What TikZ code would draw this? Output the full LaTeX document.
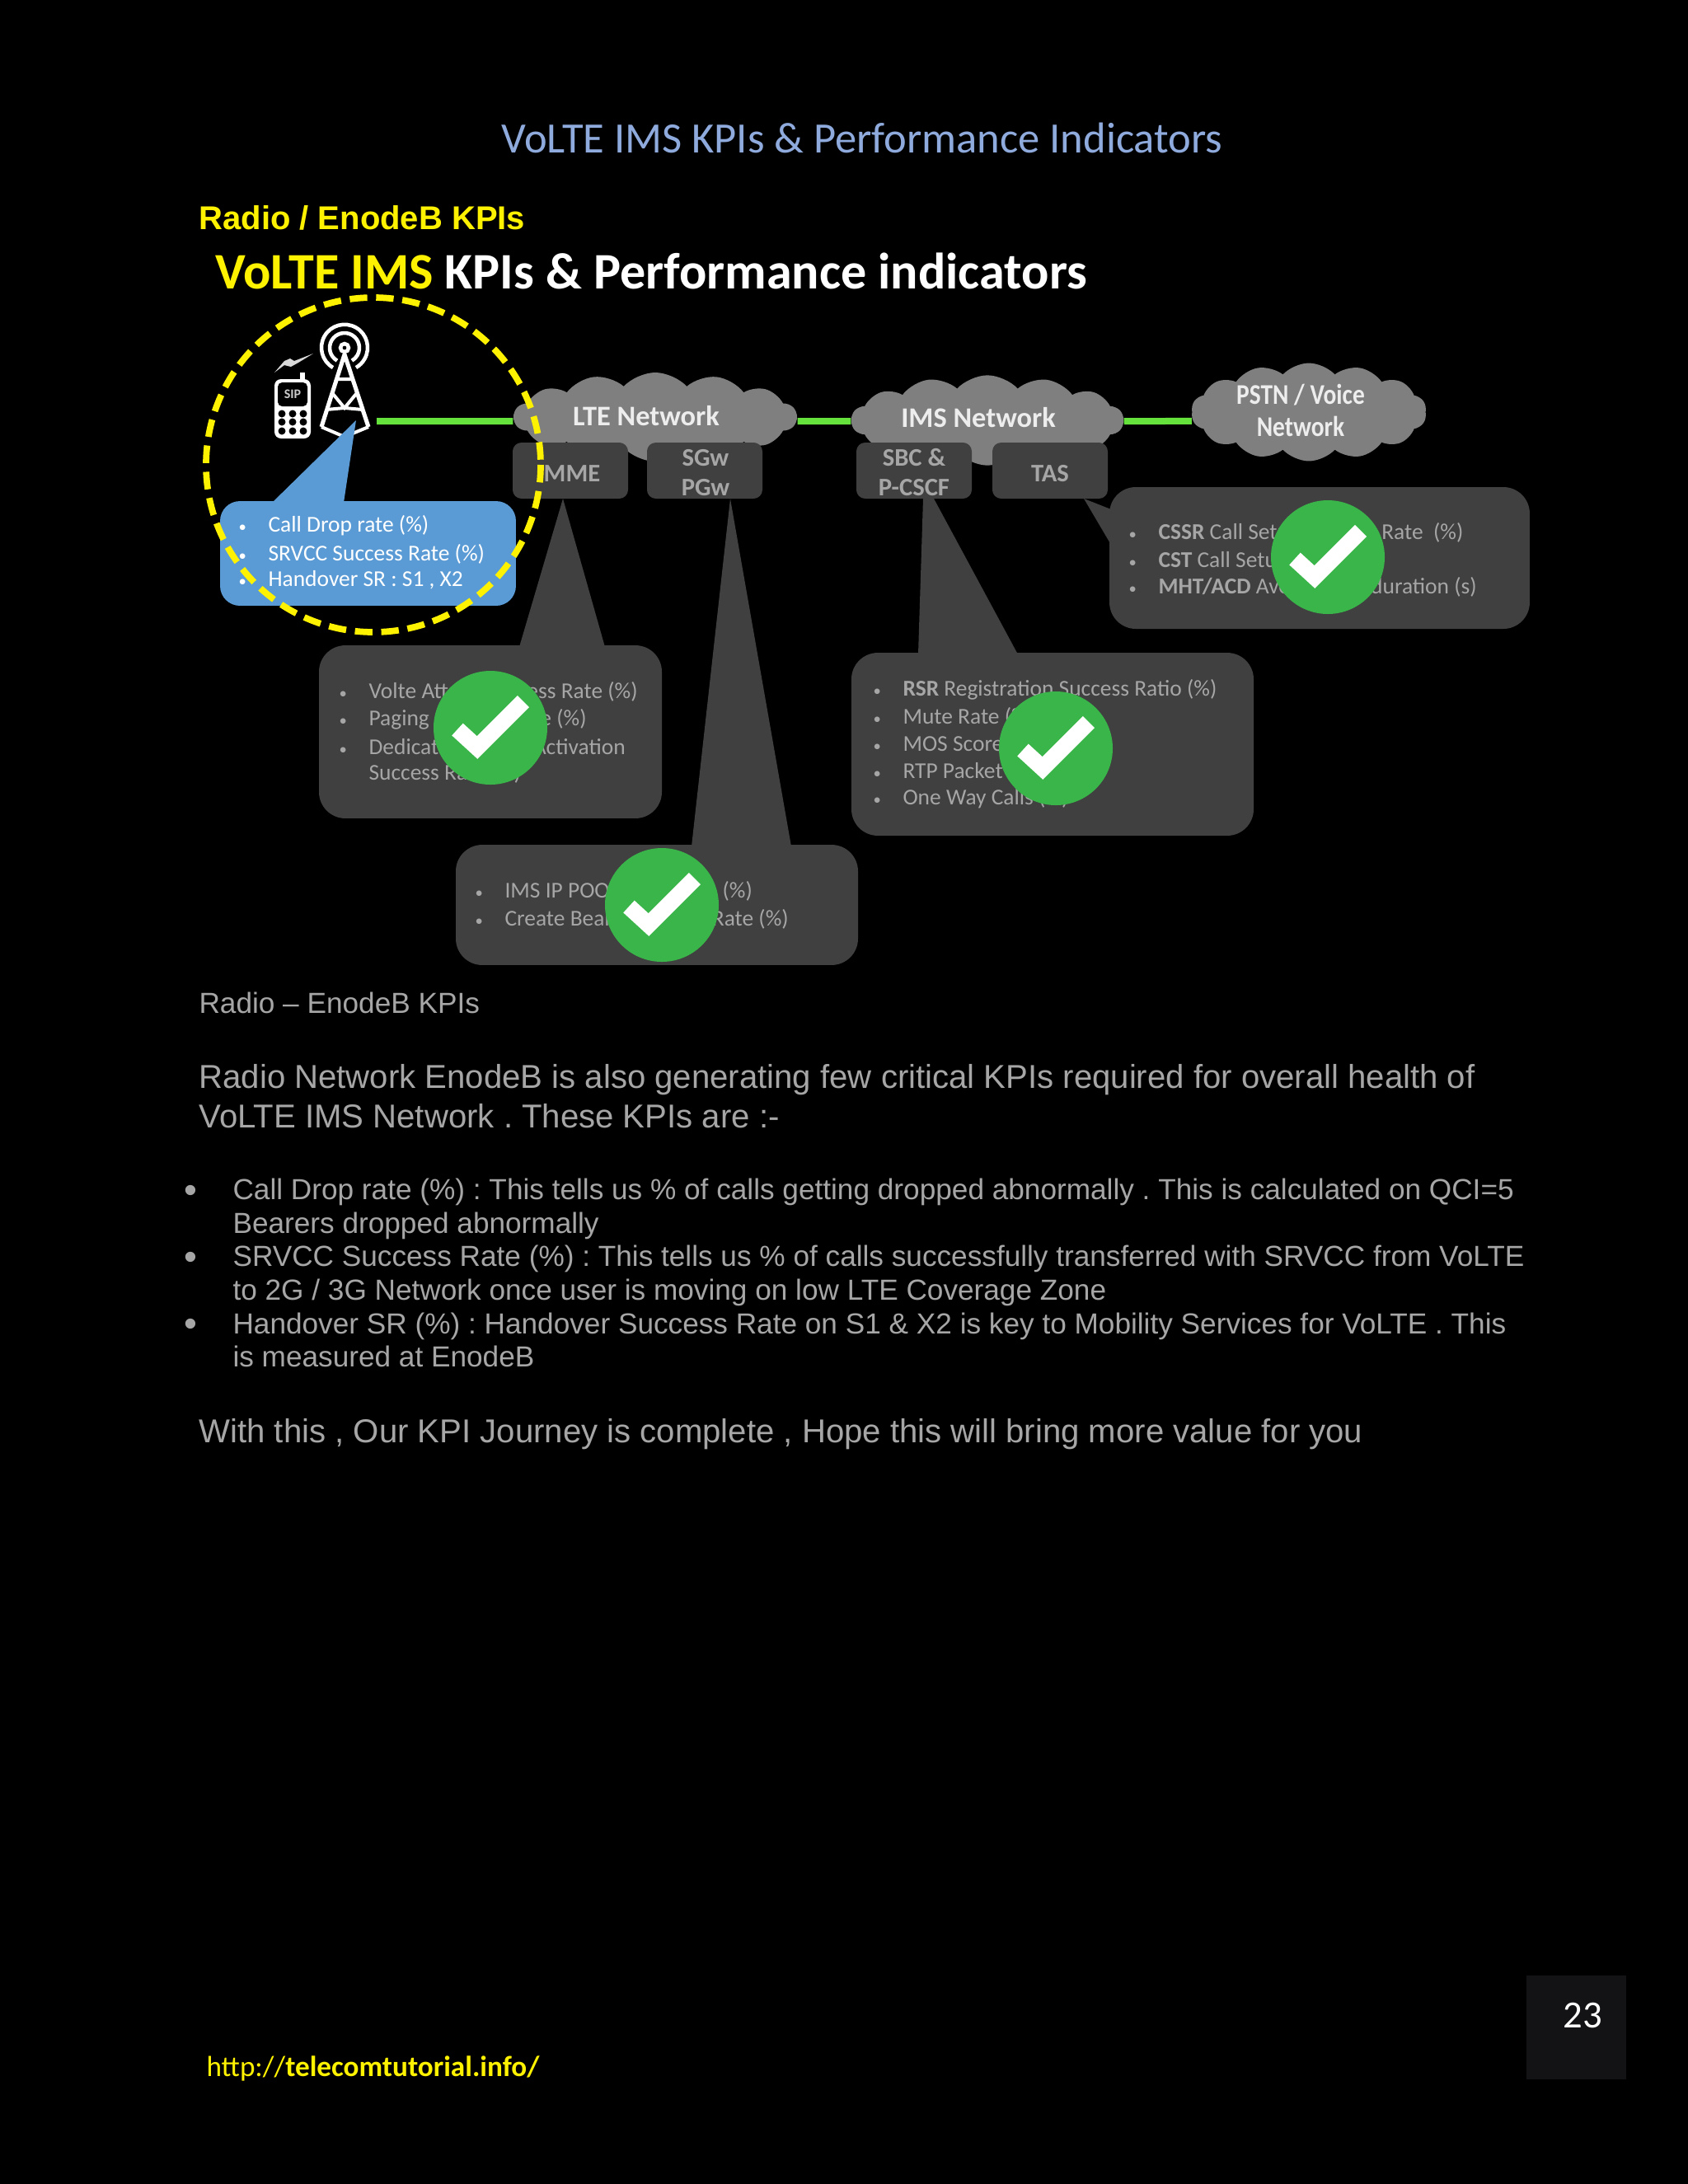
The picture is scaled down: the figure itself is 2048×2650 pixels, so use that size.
\documentclass[tikz,border=0pt]{standalone}
\usepackage{fontspec}
\setmainfont{Liberation Sans}
\newfontfamily\calibri{Carlito}
\usepackage{tikz}
\usetikzlibrary{shapes.symbols, positioning}
\definecolor{titleblue}{HTML}{8FAADC}
\definecolor{bodygrey}{HTML}{A6A6A6}
\definecolor{boxgrey}{HTML}{404040}
\definecolor{cloudgrey}{HTML}{7F7F7F}
\definecolor{calloutblue}{HTML}{5B9BD5}
\definecolor{okgreen}{HTML}{3AB54A}
\definecolor{linkgreen}{HTML}{66E23C}
\definecolor{pagebox}{HTML}{131315}
\newcommand{\kb}{\llap{{\fontsize{7}{7}\selectfont\textbullet}\hspace{10pt}}}
\newcommand{\bb}{\llap{\raisebox{-1.2pt}{\fontsize{17}{17}\selectfont\textbullet}\hspace{16pt}}}
\frenchspacing
\tikzset{
    plain/.style={anchor=west, inner sep=0pt, font=\fontsize{13.2}{15.2}\selectfont, text=bodygrey, align=left},
    netcloud/.style={cloud, cloud puffs=14, cloud puff arc=95, aspect=3, fill=cloudgrey, inner sep=0pt},
    cloudlabel/.style={inner sep=0pt, font=\calibri\bfseries\fontsize{12.9}{15}\selectfont, text=white!93!black, align=center},
    elementbox/.style={rectangle, rounded corners=4pt, fill=boxgrey, inner sep=0pt, minimum width=52.5pt, minimum height=25.5pt},
    elementlabel/.style={inner sep=0pt, font=\calibri\bfseries\fontsize{11.5}{13.5}\selectfont, text=bodygrey, align=center},
    kpibox/.style={rectangle, rounded corners=12pt, fill=boxgrey, inner sep=0pt},
    kpi/.style={anchor=west, inner sep=0pt, font=\calibri\fontsize{10.3}{11}\selectfont, text=bodygrey},
    tail/.style={fill=boxgrey},
    link/.style={draw=linkgreen, line width=3pt},
    okbadge/.pic={
        \fill[okgreen] (0,0) circle (69);
        \draw[white, line width=7.5pt, line join=miter] (-40,2) -- (-16,24) -- (40,-32);
    }
}

\begin{document}
\begin{tikzpicture}[x=0.375pt, y=-0.375pt]
        \fill[black] (0,0) rectangle (2048,2650);
        \useasboundingbox (0,0) rectangle (2048,2650);

        % Headings
        \node (pagetitle) [inner sep=0pt, font=\calibri\fontsize{19.7}{23}\selectfont, text=titleblue] at (1046,167) {VoLTE IMS KPIs \& Performance Indicators};
        \node (radiohead) [plain, font=\bfseries\fontsize{15}{18}\selectfont, text=yellow] at (241,264) {Radio / EnodeB KPIs};
        \node (slidetitle) [anchor=west, inner sep=0pt, font=\calibri\bfseries\fontsize{23.3}{27}\selectfont, text=white] at (261,329) {\textcolor{yellow}{VoLTE IMS} KPIs \& Performance indicators};

        % Clouds
        \node (lte) [netcloud, minimum width=128.6pt, minimum height=40.5pt] at (795,506) {};
        \node (ims) [netcloud, minimum width=123.7pt, minimum height=41pt] at (1198,510) {};
        \node (pstn) [netcloud, minimum width=107pt, minimum height=44.6pt] at (1588,500) {};
        \node (ltelabel) [cloudlabel] at (784,505) {LTE Network};
        \node (imslabel) [cloudlabel] at (1187,507) {IMS Network};
        \node (pstnlabel) [cloudlabel, xscale=0.85, font=\calibri\bfseries\fontsize{13}{14.3}\selectfont] at (1578,498) {PSTN / Voice\\Network};

        % Green links
        \coordinate (towerfoot) at (457,511);
        \draw[link] (towerfoot) -- ([yshift=-1.9pt]lte.west);
        \draw[link] ([yshift=-1.9pt]lte.east) -- ([yshift=-0.4pt]ims.west);
        \draw[link] ([yshift=-0.4pt]ims.east) -- ([yshift=-4.1pt]pstn.west);

        % Network elements
        \node (mme) [elementbox] at (692,571) {};
        \node (gw) [elementbox] at (855,571) {};
        \node (sbc) [elementbox] at (1109,571) {};
        \node (tas) [elementbox] at (1274,571) {};
        \node (mmelabel) [elementlabel] at (694,575) {MME};
        \node (gwlabel) [elementlabel] at (856,574) {SGw\\PGw};
        \node (sbclabel) [elementlabel] at (1109,573) {SBC \&\\P-CSCF};
        \node (taslabel) [elementlabel] at (1274,575) {TAS};

        % KPI callouts with their tails
        \fill[tail] (683,605) -- (630,785) -- (734,785) -- cycle;
        \fill[tail] (886,605) -- (839,1027) -- (960,1027) -- cycle;
        \fill[tail] (1120,605) -- (1114,794) -- (1235,794) -- (1133,605) -- cycle;
        \fill[tail] (1315,605) -- (1348,618) -- (1348,661) -- cycle;
        \node (kpimme) [kpibox, minimum width=156pt, minimum height=78.7pt] at (595,888) {};
        \node (kpigw) [kpibox, minimum width=183pt, minimum height=54.7pt] at (797,1098) {};
        \node (kpisbc) [kpibox, minimum width=183pt, minimum height=83.2pt] at (1277,903) {};
        \node (kpitas) [kpibox, minimum width=191.2pt, minimum height=64.5pt] at (1601,677) {};

        % Radio callout
        \node (kpiradio) [kpibox, fill=calloutblue, rounded corners=9pt, minimum width=134.6pt, minimum height=47.6pt] at (446.5,671.5) {};
        \node (call) [kpi, text=white] at (325,638) {\kb Call Drop rate (\%)};
        \node (srvcc) [kpi, text=white] at (325,672) {\kb SRVCC Success Rate (\%)};
        \node (handover) [kpi, text=white] at (325,704) {\kb Handover SR : S1 , X2};

        % Phone and tower
        \begin{scope}[white]
            \fill[rounded corners=3pt] (333,460) rectangle (377,532);
            \fill (364,452) rectangle (370,462);
            \fill[black, rounded corners=2pt] (337,464) rectangle (373,493);
            \foreach \col in {342,355,368} {
                \foreach \row in {502,512,523} {
                    \fill[black] (\col,\row) circle (4.5);
                }
            }
            \node (sip) [inner sep=0pt, font=\calibri\bfseries\fontsize{6}{7}\selectfont, text=white!80!black] at (355,478) {SIP};
            \fill[white!85!black] (333,452) -- (345,438) -- (352,435) -- (357,438) -- (380,429) -- (362,440) -- (353,445) -- (345,443) -- cycle;
            \draw[line width=1.7pt] (418,422) circle (5);
            \draw[line width=1.7pt] (404,446) arc (120:420:28);
            \draw[line width=1.7pt] (409,437.6) arc (120:420:18);
            \draw[line width=1.9pt, line join=round] (390,518) -- (418,430) -- (447,518);
            \draw[line width=1.5pt] (390,518) -- (418,530) -- (447,518) (396,497) -- (418,495) -- (440,497) (404,478) -- (418,495) -- (432,478) (410,460) -- (426,460);
        \end{scope}
        \fill[calloutblue] (432,510) -- (330,610) -- (417,610) -- cycle;

        % Dashed radio circle
        \draw[yellow, line width=2.9pt, dash pattern=on 8pt off 4pt] (453,564) circle (203);

        % KPI texts
        \node (attach) [kpi] at (447,839) {\kb Volte Attach Success Rate (\%)};
        \node (paging) [kpi] at (447,873) {\kb Paging Success Rate (\%)};
        \node (bearer) [kpi] at (447,906) {\kb Dedicated Bearer Activation};
        \node (bearertwo) [kpi] at (447,938) {Success Rate (\%)};
        \node (pool) [kpi] at (612,1081) {\kb IMS IP POOL Utilization (\%)};
        \node (create) [kpi] at (612,1115) {\kb Create Bearer Success Rate (\%)};
        \node (rsr) [kpi] at (1095,837) {\kb \textbf{RSR} Registration Success Ratio (\%)};
        \node (mute) [kpi] at (1095,870) {\kb Mute Rate (\%)};
        \node (mos) [kpi] at (1095,903) {\kb MOS Score};
        \node (rtp) [kpi] at (1095,935) {\kb RTP Packet Loss};
        \node (oneway) [kpi] at (1095,969) {\kb One Way Calls (\%)};
        \node (cssr) [kpi] at (1405,647) {\kb \textbf{CSSR} Call Setup Success Rate~~(\%)};
        \node (cst) [kpi] at (1405,681) {\kb \textbf{CST} Call Setup Time (s)};
        \node (mht) [kpi] at (1405,713) {\kb \textbf{MHT/ACD} Average call duration (s)};

        % Green badges
        \pic at (595,883) {okbadge};
        \pic at (803,1098) {okbadge};
        \pic at (1281,908) {okbadge};
        \pic at (1611,676) {okbadge};

        % Body text
        \node (subhead) [plain] at (241,1217) {Radio -- EnodeB KPIs};
        \node (intro) [plain, font=\fontsize{15.05}{18}\selectfont] at (241,1330) {Radio Network EnodeB is also generating few critical KPIs required for overall health of\\VoLTE IMS Network . These KPIs are :-};
        \node (itemone) [plain] at (282,1467) {\bb Call Drop rate (\%) : This tells us \% of calls getting dropped abnormally . This is calculated on QCI=5\\Bearers dropped abnormally};
        \node (itemtwo) [plain] at (282,1548) {\bb SRVCC Success Rate (\%) : This tells us \% of calls successfully transferred with SRVCC from VoLTE\\to 2G / 3G Network once user is moving on low LTE Coverage Zone};
        \node (itemthree) [plain] at (282,1626) {\bb Handover SR (\%) : Handover Success Rate on S1 \& X2 is key to Mobility Services for VoLTE . This\\is measured at EnodeB};
        \node (closing) [plain, font=\fontsize{15.05}{18}\selectfont] at (241,1740) {With this , Our KPI Journey is complete , Hope this will bring more value for you};

        % Footer
        \node (pagenum) [fill=pagebox, minimum width=45.4pt, minimum height=47.3pt, inner sep=0pt] at (1912.5,2460) {};
        \node (pagenumber) [inner sep=0pt, font=\calibri\fontsize{17.5}{20}\selectfont, text=white] at (1920,2445) {23};
        \node (footer) [anchor=west, inner sep=0pt, font=\calibri\fontsize{13.2}{16}\selectfont, text=yellow] at (250,2510) {http://\textbf{telecomtutorial.info/}};
    \end{tikzpicture}
\end{document}
